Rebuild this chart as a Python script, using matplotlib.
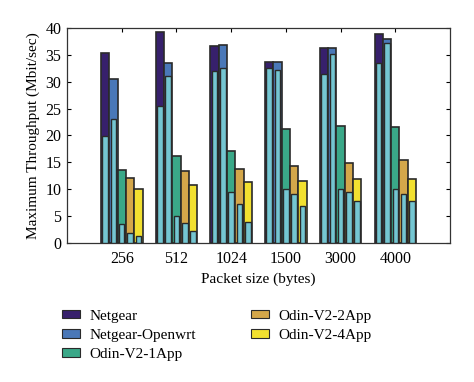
import matplotlib
matplotlib.use("Agg")
import matplotlib.pyplot as plt
import numpy as np
from matplotlib.patches import Patch

plt.rcParams['font.family'] = ['Liberation Serif', 'DejaVu Serif']

packet_sizes = ["256", "512", "1024", "1500", "3000", "4000"]
series_names = ["Netgear", "Netgear-Openwrt", "Odin-V2-1App", "Odin-V2-2App", "Odin-V2-4App"]

# total (outer bar) throughput
netgear_total = [35.4, 39.3, 36.6, 33.6, 36.3, 38.8]
openwrt_total = [30.6, 33.5, 36.8, 33.7, 36.2, 38.0]
app1_total = [13.6, 16.2, 17.1, 21.2, 21.8, 21.5]
app2_total = [12.1, 13.4, 13.8, 14.4, 14.9, 15.4]
app4_total = [10.0, 10.8, 11.3, 11.5, 11.9, 11.9]

# inner (cyan) bar values
netgear_inner = [19.9, 25.4, 32.0, 32.5, 31.4, 33.4]
openwrt_inner = [23.0, 31.0, 32.5, 32.2, 35.2, 37.2]
app1_inner = [3.6, 5.0, 9.5, 10.1, 10.0, 10.0]
app2_inner = [1.9, 3.7, 7.2, 9.2, 9.4, 9.1]
app4_inner = [1.3, 2.2, 3.9, 6.9, 7.8, 7.8]

totals = [netgear_total, openwrt_total, app1_total, app2_total, app4_total]
inners = [netgear_inner, openwrt_inner, app1_inner, app2_inner, app4_inner]
colors = ["#37206c", "#4a78b8", "#3aa888", "#d4a74a", "#f2e030"]
inner_color = "#74c6d2"
edge = "#2a2a2a"

fig = plt.figure(figsize=(4.74, 3.82), dpi=100)
ax = fig.add_axes([0.1414, 0.3639, 0.8080, 0.5628])

x = np.arange(1, len(packet_sizes) + 1)
bw = 0.152
for i, (tot, inn, c) in enumerate(zip(totals, inners, colors)):
    pos = x + (i - 2) * bw
    ax.bar(pos, tot, width=bw, color=c, edgecolor=edge, linewidth=1.2, zorder=2)
    ax.bar(pos, inn, width=bw * 0.66, color=inner_color, edgecolor=edge, linewidth=1.0, zorder=3)

ax.set_xlim(0, 7)
ax.set_ylim(0, 40)
ax.set_xticks(x)
ax.set_xticklabels(packet_sizes, fontsize=11.5)
ax.set_yticks(np.arange(0, 41, 5))
ax.tick_params(axis='y', labelsize=11.5, direction='in', right=True, length=3, pad=4)
ax.tick_params(axis='x', direction='in', top=True, length=3, pad=6)
for s in ax.spines.values():
    s.set_color("#333333")
    s.set_linewidth(0.9)

ax.set_xlabel("Packet size (bytes)", fontsize=11, labelpad=4)
ax.set_ylabel("Maximum Throughput (Mbit/sec)", fontsize=11, labelpad=4)

handles = [Patch(facecolor=c, edgecolor=edge, linewidth=0.8) for c in colors]
fig.legend(handles, series_names, loc='upper left', bbox_to_anchor=(0.118, 0.205),
           ncol=2, frameon=False, fontsize=11, handlelength=1.2, handleheight=0.45,
           columnspacing=3.6, labelspacing=0.4, handletextpad=0.6, borderaxespad=0)

fig.savefig("out.png", dpi=100)
